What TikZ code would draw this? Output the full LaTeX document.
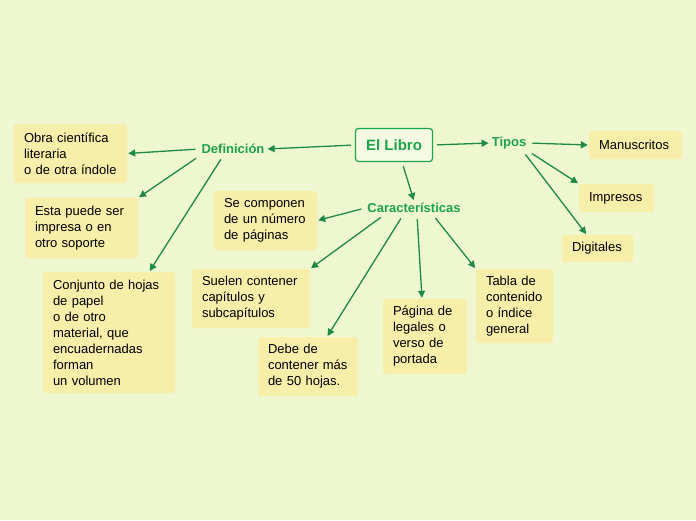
\documentclass[tikz,border=0pt]{standalone}
\usepackage{fontspec}
\setmainfont{Liberation Sans}
\usetikzlibrary{arrows.meta}
\definecolor{bg}{HTML}{EEF7D0}
\definecolor{note}{HTML}{F7EEAA}
\definecolor{gr}{HTML}{1FA34A}
\definecolor{ln}{HTML}{1E8A45}
\begin{document}
\begin{tikzpicture}[x=1pt,y=-1pt,
 leaf/.style={fill=note,rounded corners=3pt,align=left,inner sep=0pt,font=\fontsize{13}{16}\selectfont},
 topic/.style={text=gr,font=\bfseries\fontsize{13}{16}\selectfont,inner sep=2pt},
 conn/.style={draw=ln,line width=1.3pt,-{Triangle[length=7pt,width=7pt]},shorten <=4pt,shorten >=1pt}]
\fill[bg] (0,0) rectangle (696,520);
\useasboundingbox (0,0) rectangle (696,520);
\node[draw=gr,fill=bg!60!white,line width=1.2pt,rounded corners=3pt,minimum width=77pt,minimum height=33pt,text=gr,font=\bfseries\fontsize{15}{18}\selectfont] (root) at (394,145) {El Libro};
\node[topic] (def) at (233,149) {Definición};
\node[topic] (tip) at (509,143) {Tipos};
\node[topic] (car) at (414,208) {Características};
\newcommand\leafbox[5]{\node[leaf,minimum width=#3pt,minimum height=#4pt,text width=#3pt-20pt] (#1) at (#2) {#5};}
\leafbox{obra}{70.5,153.5}{113}{59}{Obra científica\\literaria\\o de otra índole}
\leafbox{esta}{81.5,228}{113}{60}{Esta puede ser\\impresa o en\\otro soporte}
\leafbox{conj}{109,332.5}{132}{121}{Conjunto de hojas\\de papel\\o de otro\\material, que\\encuadernadas\\forman\\un volumen}
\leafbox{secom}{265.5,220.5}{103}{59}{Se componen\\de un número\\de páginas}
\leafbox{suel}{251,298.5}{118}{59}{Suelen contener\\capítulos y\\subcapítulos}
\leafbox{debe}{308,366.5}{100}{59}{Debe de\\contener más\\de 50 hojas.}
\leafbox{pag}{425,336.5}{84}{75}{Página de\\legales o\\verso de\\portada}
\leafbox{tab}{514.5,306}{77}{74}{Tabla de\\contenido\\o índice\\general}
\leafbox{man}{635.5,145}{93}{28}{Manuscritos}
\leafbox{imp}{616.5,198}{75}{28}{Impresos}
\leafbox{dig}{597.5,248.5}{71}{27}{Digitales}
\draw[conn] (root.west) -- (def.east);
\draw[conn] (def.west) -- (obra.east);
\draw[conn] (def.south west) -- (esta.north east);
\draw[conn] ([xshift=-10pt]def.south) -- ([xshift=-26pt]conj.north east);
\draw[conn] (root.east) -- (tip.west);
\draw[conn] (tip.east) -- (man.west);
\draw[conn] (tip.south east) -- (imp.north west);
\draw[conn] ([xshift=14pt]tip.south) -- ([xshift=25pt]dig.north west);
\draw[conn] ([xshift=8pt]root.south) -- (car.north);
\draw[conn] (car.west) -- (secom.east);
\draw[conn] ([xshift=-30pt]car.south) -- (suel.north east);
\draw[conn] ([xshift=-11pt]car.south) -- ([xshift=19pt]debe.north);
\draw[conn] ([xshift=3pt]car.south) -- ([xshift=-3pt]pag.north);
\draw[conn] ([xshift=19pt]car.south) -- (tab.north west);
\end{tikzpicture}
\end{document}
